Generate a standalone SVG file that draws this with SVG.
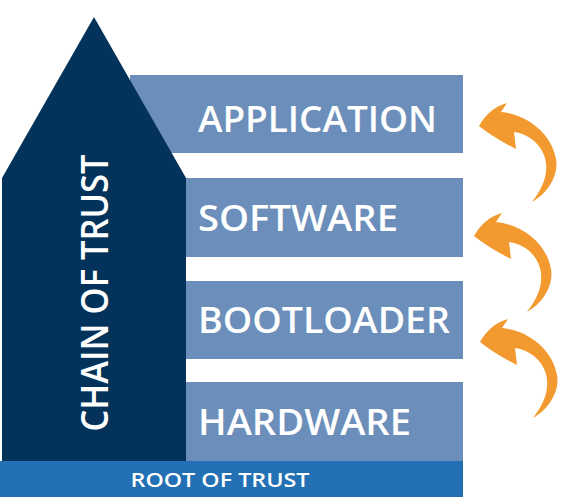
<svg xmlns="http://www.w3.org/2000/svg" width="570" height="500" viewBox="0 0 570 500">
  <style>
    .bar { fill: #6b8fba; }
    .lbl { font-family: "Open Sans", "Liberation Sans", sans-serif; font-weight: 600; fill: #ffffff; }
    .big { font-size: 36px; }
    .arrow { fill: #f29a30; }
  </style>
  <defs>
    <path id="curl" d="M0,0 Q10,-18 28,-23 L22,-14 C45,-12 72,5 77,33 C80,50 68,68 53,76 C64,62 70,47 66,32 C62,18 50,8 35,6 L37,23 Q15,12 0,0 Z"/>
  </defs>
  <rect width="570" height="500" fill="#ffffff"/>
  <g id="application">
    <rect class="bar" x="130" y="75" width="333" height="78"/>
    <text class="lbl big" x="198" y="132" textLength="239" lengthAdjust="spacingAndGlyphs">APPLICATION</text>
  </g>
  <g id="software">
    <rect class="bar" x="130" y="178" width="333" height="79"/>
    <text class="lbl big" x="198" y="231" textLength="200" lengthAdjust="spacingAndGlyphs">SOFTWARE</text>
  </g>
  <g id="bootloader">
    <rect class="bar" x="130" y="281" width="333" height="78"/>
    <text class="lbl big" x="198" y="333" textLength="252" lengthAdjust="spacingAndGlyphs">BOOTLOADER</text>
  </g>
  <g id="hardware">
    <rect class="bar" x="130" y="382" width="333" height="79"/>
    <text class="lbl big" x="198" y="435" textLength="213" lengthAdjust="spacingAndGlyphs">HARDWARE</text>
  </g>
  <g id="chain-of-trust">
    <polygon points="94,17 186,178 186,461 2,461 2,178" fill="#03335a"/>
    <text class="lbl" font-size="38" text-anchor="middle" transform="translate(108,293) rotate(-90)" textLength="277" lengthAdjust="spacingAndGlyphs">CHAIN OF TRUST</text>
  </g>
  <g id="root-of-trust">
    <rect x="0" y="461" width="463" height="36" fill="#2370b4"/>
    <text class="lbl" font-size="20" x="220" y="487" text-anchor="middle" textLength="179" lengthAdjust="spacingAndGlyphs">ROOT OF TRUST</text>
  </g>
  <g id="connectors">
    <use href="#curl" class="arrow" transform="translate(479,126)"/>
    <use href="#curl" class="arrow" transform="translate(474,236)"/>
    <use href="#curl" class="arrow" transform="translate(480,342)"/>
  </g>
</svg>
